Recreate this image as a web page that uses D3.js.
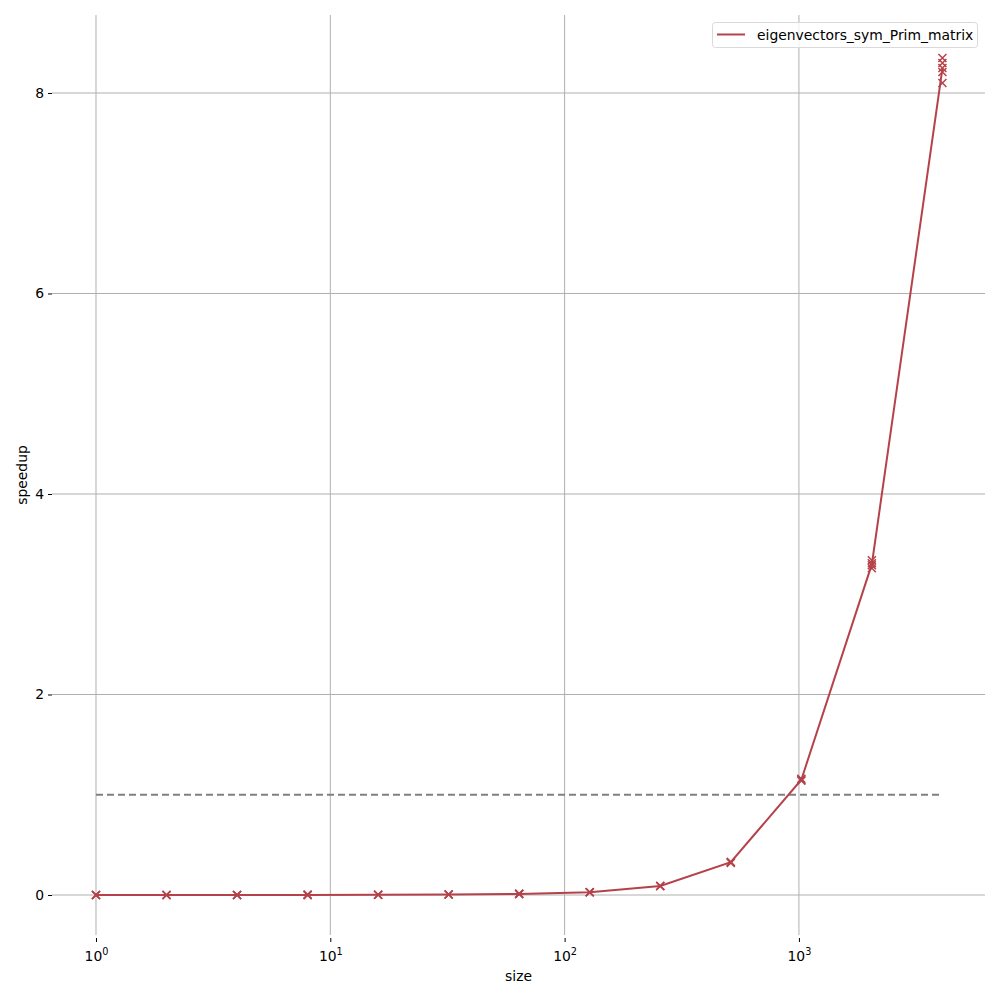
<!DOCTYPE html>
<html><head><meta charset="utf-8">
<script src="https://cdn.jsdelivr.net/npm/d3@7"></script>
<style>body{margin:0;background:#fff}text{font-family:"DejaVu Sans",sans-serif}</style>
</head><body><svg id="c" width="1000" height="1000"></svg>
<script>
const sizes = [1, 2, 4, 8, 16, 32, 64, 128, 256, 512, 1024, 2048, 4096];
const runs = [
  [0.0005, 0.0005, 0.0005],
  [0.0006, 0.0006, 0.0006],
  [0.0008, 0.0008, 0.0008],
  [0.0012, 0.0012, 0.0012],
  [0.002, 0.002, 0.002],
  [0.005, 0.005, 0.005],
  [0.011, 0.011, 0.011],
  [0.028, 0.028, 0.028],
  [0.09, 0.09, 0.09],
  [0.33, 0.32, 0.33],
  [1.16, 1.15, 1.14],
  [3.34, 3.31, 3.29, 3.26],
  [8.35, 8.30, 8.25, 8.21, 8.10]
];
const seriesName = "eigenvectors_sym_Prim_matrix";
const yTicks = [0, 2, 4, 6, 8];
const xTicks = [1, 10, 100, 1000];
const baseline = 1;

const svg = d3.select("#c");
const L = 52, R = 985, T = 15, B = 935;
const x = d3.scaleLog().domain([0.649, 6225]).range([L, R]);
const y = d3.scaleLinear().domain([-0.399, 8.778]).range([B, T]);
const col = "#b5424a";

// grid
svg.append("g").selectAll("line").data(xTicks).join("line")
  .attr("x1", d => x(d)).attr("x2", d => x(d)).attr("y1", T).attr("y2", B)
  .attr("stroke", "#b0b0b0").attr("stroke-width", 1);
svg.append("g").selectAll("line").data(yTicks).join("line")
  .attr("y1", d => y(d)).attr("y2", d => y(d)).attr("x1", L).attr("x2", R)
  .attr("stroke", "#b0b0b0").attr("stroke-width", 1);

// axes
const xa = svg.append("g").attr("transform", `translate(0,${B})`)
  .call(d3.axisBottom(x).tickValues(xTicks).tickSize(4).tickPadding(6).tickFormat(() => ""));
xa.select(".domain").remove();
xa.selectAll(".tick line").attr("stroke", "#000").attr("transform", "translate(0,3)");
xa.selectAll(".tick").each(function(d) {
  const t = d3.select(this).append("text").attr("y", 26).attr("fill", "#000")
    .attr("text-anchor", "middle").attr("font-size", 13.9);
  t.append("tspan").text("10");
  t.append("tspan").attr("dy", -6).attr("font-size", 9.7).text(Math.round(Math.log10(d)));
});
const ya = svg.append("g").attr("transform", `translate(${L},0)`)
  .call(d3.axisLeft(y).tickValues(yTicks).tickSize(4).tickPadding(4).tickFormat(d3.format("d")));
ya.select(".domain").remove();
ya.selectAll(".tick line").attr("stroke", "#000");
ya.selectAll(".tick text").attr("font-size", 13.9).attr("fill", "#000").attr("font-family", "DejaVu Sans");

svg.append("text").attr("x", (L + R) / 2).attr("y", 981).attr("text-anchor", "middle")
  .attr("font-size", 13.9).text("size");
svg.append("text").attr("transform", `translate(27,${(T + B) / 2}) rotate(-90)`)
  .attr("text-anchor", "middle").attr("font-size", 13.9).text("speedup");

// baseline
svg.append("line").attr("x1", x(sizes[0])).attr("x2", x(sizes[sizes.length - 1]))
  .attr("y1", y(baseline)).attr("y2", y(baseline))
  .attr("stroke", "#808080").attr("stroke-width", 2).attr("stroke-dasharray", "7,4");

// mean line
const means = sizes.map((s, i) => [s, d3.mean(runs[i])]);
svg.append("path").datum(means)
  .attr("d", d3.line().x(d => x(d[0])).y(d => y(d[1])))
  .attr("fill", "none").attr("stroke", col).attr("stroke-width", 2);

// markers
const pts = [];
sizes.forEach((s, i) => runs[i].forEach(v => pts.push([s, v])));
const m = 4;
svg.append("g").selectAll("path").data(pts).join("path")
  .attr("d", d => `M${x(d[0]) - m},${y(d[1]) - m}L${x(d[0]) + m},${y(d[1]) + m}M${x(d[0]) - m},${y(d[1]) + m}L${x(d[0]) + m},${y(d[1]) - m}`)
  .attr("stroke", col).attr("stroke-width", 1.5).attr("fill", "none");

// legend
const lg = svg.append("g");
lg.append("rect").attr("x", 712.5).attr("y", 22.5).attr("width", 265).attr("height", 25)
  .attr("rx", 3).attr("fill", "#fff").attr("fill-opacity", 0.8).attr("stroke", "#d9d9d9");
lg.append("line").attr("x1", 717).attr("x2", 745).attr("y1", 34.5).attr("y2", 34.5)
  .attr("stroke", col).attr("stroke-width", 2);
lg.append("text").attr("x", 757).attr("y", 39.5).attr("font-size", 13.9).text(seriesName);
</script></body></html>
